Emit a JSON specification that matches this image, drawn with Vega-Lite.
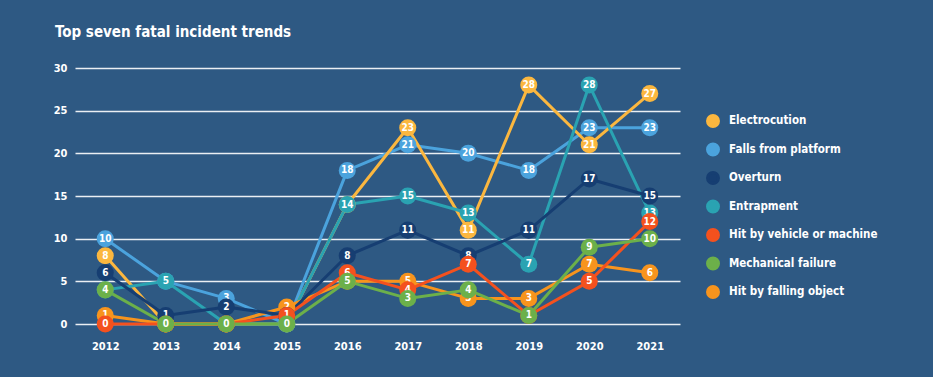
{
  "$schema": "https://vega.github.io/schema/vega-lite/v6.json",
  "width": 605,
  "height": 256,
  "autosize": "none",
  "padding": {"left": 75, "top": 68, "right": 253, "bottom": 53},
  "background": "#2e5983",
  "title": {
    "text": "Top seven fatal incident trends",
    "anchor": "start",
    "frame": "group",
    "dx": -20,
    "offset": 22,
    "color": "#ffffff",
    "font": "DejaVu Sans Condensed",
    "fontSize": 15,
    "fontWeight": "bold"
  },
  "config": {
    "view": {"stroke": null},
    "font": "DejaVu Sans Condensed"
  },
  "data": {
    "values": [
      {"year": "2012", "series": "Falls from platform", "value": 10},
      {"year": "2013", "series": "Falls from platform", "value": 5},
      {"year": "2014", "series": "Falls from platform", "value": 3},
      {"year": "2015", "series": "Falls from platform", "value": 0},
      {"year": "2016", "series": "Falls from platform", "value": 18},
      {"year": "2017", "series": "Falls from platform", "value": 21},
      {"year": "2018", "series": "Falls from platform", "value": 20},
      {"year": "2019", "series": "Falls from platform", "value": 18},
      {"year": "2020", "series": "Falls from platform", "value": 23},
      {"year": "2021", "series": "Falls from platform", "value": 23},
      {"year": "2012", "series": "Electrocution", "value": 8},
      {"year": "2013", "series": "Electrocution", "value": 0},
      {"year": "2014", "series": "Electrocution", "value": 0},
      {"year": "2015", "series": "Electrocution", "value": 0},
      {"year": "2016", "series": "Electrocution", "value": 14},
      {"year": "2017", "series": "Electrocution", "value": 23},
      {"year": "2018", "series": "Electrocution", "value": 11},
      {"year": "2019", "series": "Electrocution", "value": 28},
      {"year": "2020", "series": "Electrocution", "value": 21},
      {"year": "2021", "series": "Electrocution", "value": 27},
      {"year": "2012", "series": "Entrapment", "value": 4},
      {"year": "2013", "series": "Entrapment", "value": 5},
      {"year": "2014", "series": "Entrapment", "value": 0},
      {"year": "2015", "series": "Entrapment", "value": 0},
      {"year": "2016", "series": "Entrapment", "value": 14},
      {"year": "2017", "series": "Entrapment", "value": 15},
      {"year": "2018", "series": "Entrapment", "value": 13},
      {"year": "2019", "series": "Entrapment", "value": 7},
      {"year": "2020", "series": "Entrapment", "value": 28},
      {"year": "2021", "series": "Entrapment", "value": 13},
      {"year": "2012", "series": "Hit by falling object", "value": 1},
      {"year": "2013", "series": "Hit by falling object", "value": 0},
      {"year": "2014", "series": "Hit by falling object", "value": 0},
      {"year": "2015", "series": "Hit by falling object", "value": 2},
      {"year": "2016", "series": "Hit by falling object", "value": 5},
      {"year": "2017", "series": "Hit by falling object", "value": 5},
      {"year": "2018", "series": "Hit by falling object", "value": 3},
      {"year": "2019", "series": "Hit by falling object", "value": 3},
      {"year": "2020", "series": "Hit by falling object", "value": 7},
      {"year": "2021", "series": "Hit by falling object", "value": 6},
      {"year": "2012", "series": "Overturn", "value": 6},
      {"year": "2013", "series": "Overturn", "value": 1},
      {"year": "2014", "series": "Overturn", "value": 2},
      {"year": "2015", "series": "Overturn", "value": 1},
      {"year": "2016", "series": "Overturn", "value": 8},
      {"year": "2017", "series": "Overturn", "value": 11},
      {"year": "2018", "series": "Overturn", "value": 8},
      {"year": "2019", "series": "Overturn", "value": 11},
      {"year": "2020", "series": "Overturn", "value": 17},
      {"year": "2021", "series": "Overturn", "value": 15},
      {"year": "2012", "series": "Hit by vehicle or machine", "value": 0},
      {"year": "2013", "series": "Hit by vehicle or machine", "value": 0},
      {"year": "2014", "series": "Hit by vehicle or machine", "value": 0},
      {"year": "2015", "series": "Hit by vehicle or machine", "value": 1},
      {"year": "2016", "series": "Hit by vehicle or machine", "value": 6},
      {"year": "2017", "series": "Hit by vehicle or machine", "value": 4},
      {"year": "2018", "series": "Hit by vehicle or machine", "value": 7},
      {"year": "2019", "series": "Hit by vehicle or machine", "value": 1},
      {"year": "2020", "series": "Hit by vehicle or machine", "value": 5},
      {"year": "2021", "series": "Hit by vehicle or machine", "value": 12},
      {"year": "2012", "series": "Mechanical failure", "value": 4},
      {"year": "2013", "series": "Mechanical failure", "value": 0},
      {"year": "2014", "series": "Mechanical failure", "value": 0},
      {"year": "2015", "series": "Mechanical failure", "value": 0},
      {"year": "2016", "series": "Mechanical failure", "value": 5},
      {"year": "2017", "series": "Mechanical failure", "value": 3},
      {"year": "2018", "series": "Mechanical failure", "value": 4},
      {"year": "2019", "series": "Mechanical failure", "value": 1},
      {"year": "2020", "series": "Mechanical failure", "value": 9},
      {"year": "2021", "series": "Mechanical failure", "value": 10}
    ]
  },
  "encoding": {
    "x": {
      "field": "year",
      "type": "ordinal",
      "scale": {"type": "point", "padding": 0.5},
      "axis": {
        "title": null,
        "labelAngle": 0,
        "labelColor": "#ffffff",
        "labelFontSize": 11,
        "labelFontWeight": "bold",
        "labelPadding": 16,
        "ticks": false,
        "domain": false,
        "grid": false
      }
    },
    "y": {
      "field": "value",
      "type": "quantitative",
      "scale": {"domain": [0, 30], "nice": false},
      "axis": {
        "title": null,
        "values": [0, 5, 10, 15, 20, 25, 30],
        "labelColor": "#ffffff",
        "labelFontSize": 11,
        "labelFontWeight": "bold",
        "labelPadding": 8,
        "ticks": false,
        "domain": false,
        "grid": true,
        "gridColor": "#ffffff",
        "gridWidth": 1.5,
        "gridOpacity": 0.9
      }
    },
    "color": {
      "field": "series",
      "type": "nominal",
      "scale": {
        "domain": ["Electrocution", "Falls from platform", "Overturn", "Entrapment", "Hit by vehicle or machine", "Mechanical failure", "Hit by falling object"],
        "range": ["#fbb73f", "#4ba3dd", "#163e72", "#2aa3b2", "#f4511e", "#6cb04a", "#f7941d"]
      },
      "legend": {
        "title": null,
        "orient": "none",
        "legendX": 631,
        "legendY": 46,
        "symbolType": "circle",
        "symbolSize": 120,
        "symbolStrokeColor": "#ffffff",
        "symbolStrokeWidth": 1.5,
        "symbolOpacity": 1,
        "labelColor": "#ffffff",
        "labelFontSize": 11.5,
        "labelFontWeight": "bold",
        "labelOffset": 9,
        "rowPadding": 4.5
      }
    }
  },
  "layer": [
    {
      "mark": {"type": "line", "strokeJoin": "round"},
      "encoding": {
        "strokeWidth": {
          "field": "series",
          "type": "nominal",
          "scale": {
            "domain": ["Electrocution", "Falls from platform", "Overturn", "Entrapment", "Hit by vehicle or machine", "Mechanical failure", "Hit by falling object"],
            "range": [3, 3, 3, 4.5, 4.5, 3, 4.5]
          },
          "legend": null
        }
      }
    },
    {"transform": [{"filter": "datum.series === 'Falls from platform'"}], "mark": {"type": "circle", "size": 290, "opacity": 1}},
    {"transform": [{"filter": "datum.series === 'Falls from platform'"}], "mark": {"type": "text", "fontSize": 10, "fontWeight": "bold", "align": "center", "baseline": "middle"}, "encoding": {"text": {"field": "value", "type": "quantitative"}, "color": {"value": "#ffffff"}}},
    {"transform": [{"filter": "datum.series === 'Electrocution'"}], "mark": {"type": "circle", "size": 290, "opacity": 1}},
    {"transform": [{"filter": "datum.series === 'Electrocution'"}], "mark": {"type": "text", "fontSize": 10, "fontWeight": "bold", "align": "center", "baseline": "middle"}, "encoding": {"text": {"field": "value", "type": "quantitative"}, "color": {"value": "#ffffff"}}},
    {"transform": [{"filter": "datum.series === 'Entrapment'"}], "mark": {"type": "circle", "size": 290, "opacity": 1}},
    {"transform": [{"filter": "datum.series === 'Entrapment'"}], "mark": {"type": "text", "fontSize": 10, "fontWeight": "bold", "align": "center", "baseline": "middle"}, "encoding": {"text": {"field": "value", "type": "quantitative"}, "color": {"value": "#ffffff"}}},
    {"transform": [{"filter": "datum.series === 'Hit by falling object'"}], "mark": {"type": "circle", "size": 290, "opacity": 1}},
    {"transform": [{"filter": "datum.series === 'Hit by falling object'"}], "mark": {"type": "text", "fontSize": 10, "fontWeight": "bold", "align": "center", "baseline": "middle"}, "encoding": {"text": {"field": "value", "type": "quantitative"}, "color": {"value": "#ffffff"}}},
    {"transform": [{"filter": "datum.series === 'Overturn'"}], "mark": {"type": "circle", "size": 290, "opacity": 1}},
    {"transform": [{"filter": "datum.series === 'Overturn'"}], "mark": {"type": "text", "fontSize": 10, "fontWeight": "bold", "align": "center", "baseline": "middle"}, "encoding": {"text": {"field": "value", "type": "quantitative"}, "color": {"value": "#ffffff"}}},
    {"transform": [{"filter": "datum.series === 'Hit by vehicle or machine'"}], "mark": {"type": "circle", "size": 290, "opacity": 1}},
    {"transform": [{"filter": "datum.series === 'Hit by vehicle or machine'"}], "mark": {"type": "text", "fontSize": 10, "fontWeight": "bold", "align": "center", "baseline": "middle"}, "encoding": {"text": {"field": "value", "type": "quantitative"}, "color": {"value": "#ffffff"}}},
    {"transform": [{"filter": "datum.series === 'Mechanical failure'"}], "mark": {"type": "circle", "size": 290, "opacity": 1}},
    {"transform": [{"filter": "datum.series === 'Mechanical failure'"}], "mark": {"type": "text", "fontSize": 10, "fontWeight": "bold", "align": "center", "baseline": "middle"}, "encoding": {"text": {"field": "value", "type": "quantitative"}, "color": {"value": "#ffffff"}}}
  ]
}
